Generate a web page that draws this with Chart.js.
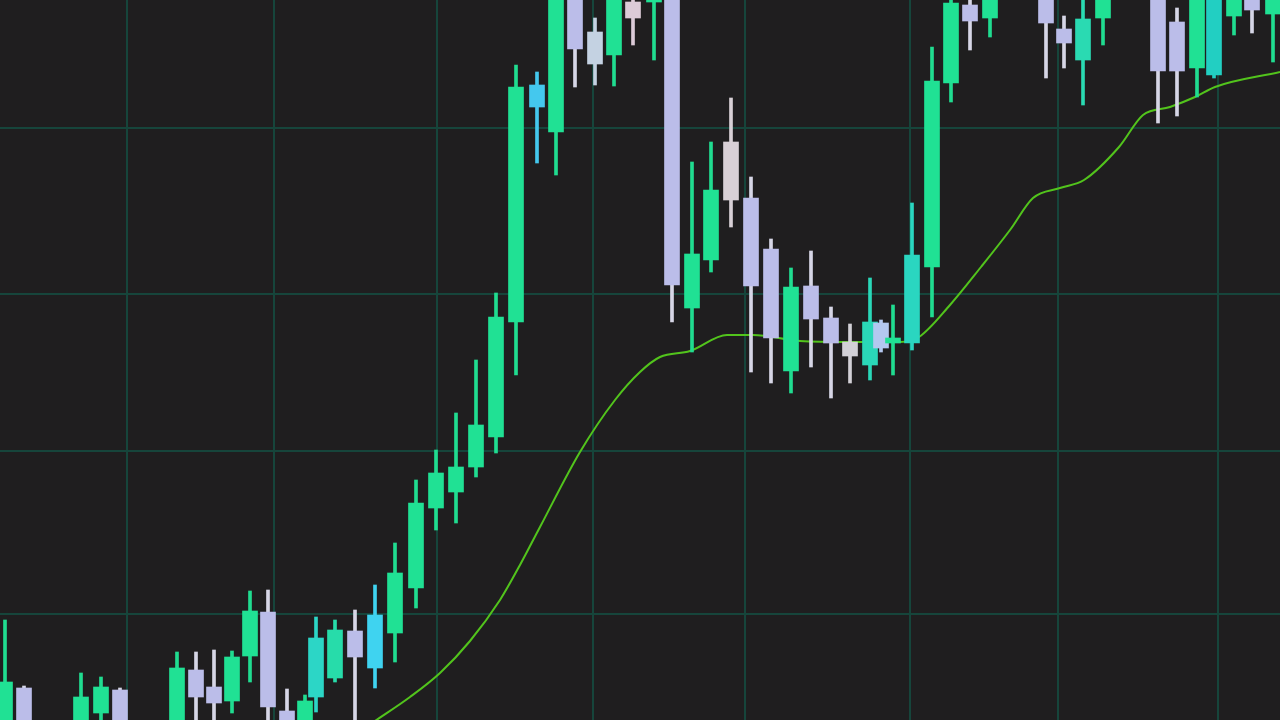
<!DOCTYPE html>
<html>
<head>
<meta charset="utf-8">
<title>Candlestick chart</title>
<script src="https://cdn.jsdelivr.net/npm/chart.js@4.4.1/dist/chart.umd.min.js"></script>
<style>
  html, body { margin: 0; padding: 0; background: #1f1e1f; overflow: hidden; }
  #wrap { width: 1280px; height: 720px; }
  canvas { display: block; background: #1f1e1f; }
</style>
</head>
<body>
<div id="wrap"><canvas id="c" width="1280" height="720"></canvas></div>
<script>
// ---- data (time index, OHLC in price units) ----
const times = [0.25, 1.2, 4.05, 5.05, 6.0, 8.85, 9.8, 10.7, 11.6, 12.5, 13.4, 14.35, 15.25, 15.8, 16.75, 17.75, 18.75, 19.75, 20.8, 21.8,
  22.8, 23.8, 24.8, 25.8, 26.85, 27.8, 28.75, 29.75, 30.7, 31.65, 32.7, 33.6, 34.6, 35.55, 36.55, 37.55, 38.55, 39.55, 40.55, 41.55,
  42.5, 43.5, 44.05, 44.65, 45.6, 46.6, 47.55, 48.5, 49.5, 52.3, 53.2, 54.15, 55.15, 57.9, 58.85, 59.85, 60.7, 61.7, 62.6, 63.65];
const open = [-2.5, 8, -2.5, 1.75, 7.5, -2.5, 12.5, 8.25, 4.75, 16, 27, 2.25, -2.5, 5.75, 10.5, 22.25, 13, 21.75, 33, 53,
  57, 63.25, 70.75, 99.5, 153.25, 147, 185, 172, 166.25, 179.5, 179.5, 185, 103, 115, 144.5, 130.5, 117.75, 87.25, 108.5, 100.5,
  94.5, 88.75, 99.25, 94.25, 94.25, 113.25, 159.25, 178.75, 175.5, 185, 172.75, 165, 175.5, 185, 174.5, 163, 161.25, 176, 185, 176.5];
const close = [9.5, -2.5, 5.75, 8.25, -2.5, 13, 5.75, 4.25, 15.75, 27.25, 3.25, -2.5, 4.75, 20.5, 22.5, 15.75, 26.25, 36.75, 54.25, 61.75,
  63.25, 73.75, 100.75, 158.25, 158.75, 185, 167.75, 164, 185, 175.5, 185, 108.75, 116.5, 132.5, 130, 108.5, 95.5, 108.25, 100.25, 94.25,
  91, 99.5, 93, 95.5, 116.25, 159.75, 179.25, 174.75, 185, 174.25, 169.25, 175.25, 185, 162.25, 162.25, 185, 185, 185, 177.5, 185];
const high = [25, 8.5, 11.75, 10.75, 8, 17, 17, 17.5, 17.25, 32.25, 32.5, 7.75, 6.25, 25.75, 25, 27.5, 33.75, 44.25, 60, 67.5,
  76.75, 90, 106.75, 163.75, 162, 190, 190, 175.5, 190, 182, 190, 190, 139.5, 144.5, 155.5, 135.75, 120.25, 113, 117.25, 103.25,
  99, 110.5, 100, 103.75, 129.25, 168.25, 190, 190, 190, 190, 176, 190, 190, 190, 178, 190, 190, 190, 190, 190];
const low = [-5, -5, -5, -2.5, -5, -5, -2.5, -2.5, 1.75, 9.5, -2.5, -5, -5, 2, 9.5, -2.5, 8, 14.5, 28, 47.5,
  49.25, 60.75, 66.75, 86.25, 139.25, 136.25, 158.25, 158.75, 158.5, 168.75, 165, 99.5, 92, 112, 123.25, 87, 84.25, 81.75, 88.25, 80.5,
  84.25, 85, 92, 86.25, 92.5, 100.75, 154.5, 167.5, 170.75, 160.5, 163, 153.75, 168.75, 149.25, 151, 155.75, 160.5, 171.25, 171.75, 164.5];

// moving average line
const maTimes = [18.75, 20.5, 22, 23.5, 25, 26, 27, 29, 30.75, 32, 33, 34.5, 36.35, 37.65, 40, 42.5, 45, 45.95, 47.5, 49.05,
  50.5, 51.65, 53, 54.2, 55.95, 57.15, 58.5, 59.75, 60.75, 64];
const maValues = [-0.25, 5.75, 11.75, 19.75, 30, 38.75, 48.25, 67, 80, 87, 90.75, 92.25, 96.25, 96.25, 94.75, 94.5, 94.5, 95.75, 103.75, 113.25,
  122.5, 130.5, 133, 135, 143.25, 151.25, 153.25, 155.75, 158.25, 162];

// grid positions (time / price)
const gridTimes = [6.35, 13.7, 21.85, 29.65, 37.25, 45.5, 52.9, 60.9];
const gridPrices = [26.5, 67.25, 106.5, 148];

// ---- styles ----
const UP = '#20e194', DOWN = '#bbbde9';
const UP_WICK = '#20dc90', DOWN_WICK = '#d6d6e6';
const accent = {13: '#2cd6c6', 14: '#27dcaa', 16: '#3fd3f0', 24: '#44c8ee', 27: '#c4d2e2', 29: '#dccbd8', 34: '#d8d0d6',
  40: '#d2d0d6', 41: '#2ad8b8', 42: '#b4c8f0', 44: '#2ad6c0', 51: '#2adab2', 56: '#22cfc2'};

function bodyColor(i) {
  if (accent[i]) return accent[i];
  return close[i] >= open[i] ? UP : DOWN;
}
function wickColor(i) {
  if (accent[i]) return accent[i];
  return close[i] >= open[i] ? UP_WICK : DOWN_WICK;
}

const bodies = times.map((t, i) => ({x: t, y: [open[i], close[i]]}));
const wicks = times.map((t, i) => ({x: t, y: [low[i], high[i]]}));
const ma = maTimes.map((t, i) => ({x: t, y: maValues[i]}));

new Chart(document.getElementById('c'), {
  type: 'bar',
  data: {
    datasets: [
      {
        type: 'line', data: ma, borderColor: '#52c41c', borderWidth: 2, pointRadius: 0,
        cubicInterpolationMode: 'monotone', fill: false, order: 3
      },
      {
        data: wicks, grouped: false, barThickness: 3, borderWidth: 0, order: 2,
        backgroundColor: (ctx) => wickColor(ctx.dataIndex)
      },
      {
        data: bodies, grouped: false, barThickness: 15, borderWidth: 0, order: 1, minBarLength: 2,
        backgroundColor: (ctx) => bodyColor(ctx.dataIndex)
      }
    ]
  },
  options: {
    responsive: false,
    animation: false,
    devicePixelRatio: 1,
    layout: { padding: 0 },
    plugins: { legend: { display: false }, tooltip: { enabled: false } },
    scales: {
      x: {
        type: 'linear', min: 0, max: 64, offset: false,
        grid: { color: '#16453b', lineWidth: 2, drawTicks: false, offset: false },
        border: { display: false },
        ticks: { display: false },
        afterBuildTicks: (s) => { s.ticks = gridTimes.map(v => ({value: v})); }
      },
      y: {
        type: 'linear', min: 0, max: 180,
        grid: { color: '#16453b', lineWidth: 2, drawTicks: false },
        border: { display: false },
        ticks: { display: false },
        afterBuildTicks: (s) => { s.ticks = gridPrices.map(v => ({value: v})); }
      }
    }
  }
});
</script>
</body>
</html>
